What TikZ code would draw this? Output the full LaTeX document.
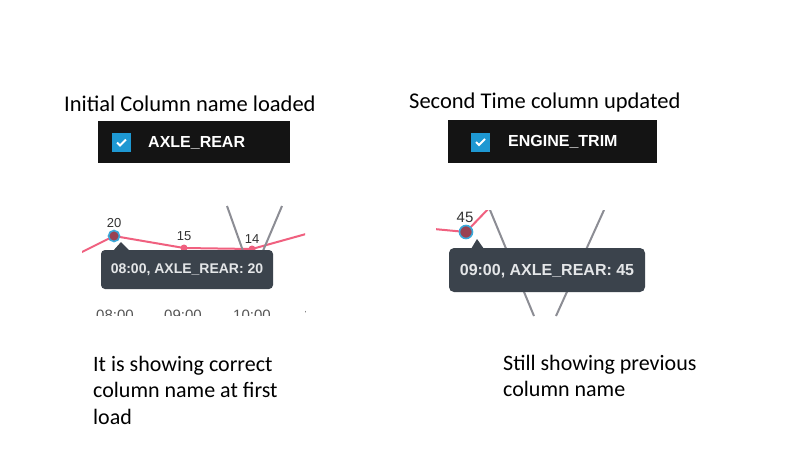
\documentclass[tikz,border=0pt]{standalone}
\usepackage{fontspec}
\setmainfont{Carlito}
\newfontfamily\chartfont{Liberation Sans}
\definecolor{barblack}{HTML}{141414}
\definecolor{chkblue}{HTML}{1E98D2}
\definecolor{tipgray}{HTML}{3B434C}
\definecolor{tiptext}{HTML}{E4E6E8}
\definecolor{serpink}{HTML}{F0607F}
\definecolor{dotred}{HTML}{9A4252}
\definecolor{ringblue}{HTML}{3AA9DA}
\definecolor{sergray}{HTML}{8C8D94}
\definecolor{axisgray}{HTML}{555555}
\newcommand{\Note}{\fontsize{22}{26.5}\selectfont}
\newcommand{\Title}{\fontsize{22.5}{26.5}\selectfont}
\newcommand{\Bar}{\chartfont\bfseries\fontsize{16}{18}\selectfont}

\begin{document}
\begin{tikzpicture}[x=1pt,y=-1pt,
  note/.style={anchor=base west,inner sep=0pt,align=left,font=\Note},
  chkbox/.style={fill=chkblue,minimum size=19pt,inner sep=0pt},
  chkmark/.style={white,line width=2pt},
  barlabel/.style={anchor=west,inner sep=0pt,text=white,font=\Bar},
  tiplabel/.style={inner sep=0pt,text=tiptext},
  datalabel/.style={inner sep=0pt,text=black!80},
  axislabel/.style={anchor=north,inner sep=0pt,text=axisgray,font=\chartfont\fontsize{15}{17}\selectfont},
  pinkline/.style={serpink,line width=2pt,line join=round},
  grayline/.style={sergray,line width=2pt},
  hotdot/.style={circle,fill=dotred,draw=ringblue,line width=1.6pt,inner sep=0pt}]
\useasboundingbox[fill=white] (0,0) rectangle (791,450);

% first shot
\node[note,font=\Title] (title1) at (64,111) {Initial Column name loaded};
\fill[barblack] (98,121) rectangle (290,163);
\node[chkbox] (chk1) at (121.5,142.5) {};
\draw[chkmark] (chk1.center) ++(-4.5,0) -- ++(3,3) -- ++(6,-6);
\node[barlabel] (lab1) at (148,142.5) {AXLE\_REAR};

\begin{scope}
\clip (82,205) rectangle (305,315.5);
\draw[pinkline] (80,253) -- (114,236) -- (184,248) -- (252,249) -- (306,234);
\fill[serpink] (184,248) circle (3.5) (252,249) circle (3.5);
\draw[grayline] (227,206) -- (248,265);
\draw[grayline] (282,206) -- (257,265);
\node[hotdot,minimum size=11pt] (pt1) at (114,236) {};
\node[datalabel,font=\chartfont\fontsize{13}{15}\selectfont] (v20) at (114,223) {20};
\node[datalabel,font=\chartfont\fontsize{13}{15}\selectfont] (v15) at (184,236) {15};
\node[datalabel,font=\chartfont\fontsize{13}{15}\selectfont] (v14) at (252,239) {14};
\fill[tipgray,rounded corners=4pt] (101,250) rectangle (273,289);
\fill[tipgray] (113,251) -- (121,242) -- (130,251) -- cycle;
\node[tiplabel,font=\chartfont\bfseries\fontsize{14}{16}\selectfont] (tip1) at (187,270) {08:00, AXLE\_REAR: 20};
\node[axislabel] (t08) at (115,309.5) {08:00};
\node[axislabel] (t09) at (183,309.5) {09:00};
\node[axislabel] (t10) at (252,309.5) {10:00};
\node[axislabel] (t11) at (322,309.5) {11:00};
\end{scope}

\node[note] (note1) at (93,424) {It is showing correct\\column name at first\\load};

% second shot
\node[note,font=\Title] (title2) at (409,108) {Second Time column updated};
\fill[barblack] (448,120) rectangle (657,163);
\node[chkbox] (chk2) at (480.5,142) {};
\draw[chkmark] (chk2.center) ++(-4.5,0) -- ++(3,3) -- ++(6,-6);
\node[barlabel] (lab2) at (508,142) {ENGINE\_TRIM};

\begin{scope}
\clip (436,210) rectangle (662,316);
\draw[pinkline] (434,229) -- (466,232) -- (490,207);
\draw[grayline] (490,210) -- (534,316);
\draw[grayline] (604,210) -- (556,316);
\node[hotdot,minimum size=13pt] (pt2) at (466,232) {};
\node[datalabel,font=\chartfont\fontsize{15}{17}\selectfont] (v45) at (465,217) {45};
\fill[tipgray,rounded corners=5pt] (449,248) rectangle (645,292);
\fill[tipgray] (471,249) -- (477,239) -- (484,249) -- cycle;
\node[tiplabel,font=\chartfont\bfseries\fontsize{16}{18}\selectfont] (tip2) at (547,271) {09:00, AXLE\_REAR: 45};
\end{scope}

\node[note] (note2) at (503,396.5) {Still showing previous\\column name};
\end{tikzpicture}
\end{document}
